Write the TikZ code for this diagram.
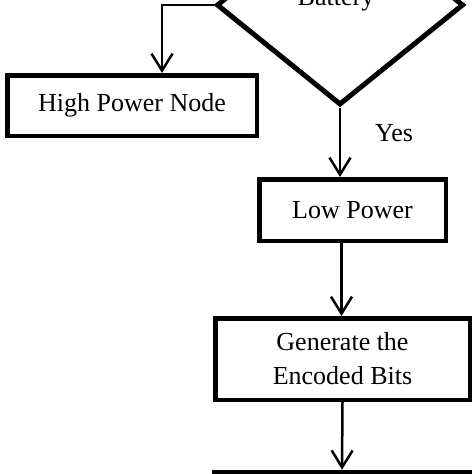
\documentclass[tikz,border=0pt]{standalone}
\usepackage{fontspec}
\setmainfont{Liberation Serif}
\usetikzlibrary{shapes.geometric,arrows.meta}
\begin{document}
\begin{tikzpicture}[x=1pt,y=-1pt,
  every node/.style={font=\fontsize{26}{34}\selectfont, inner sep=0pt},
  procbox/.style={draw, line width=4.5pt, rectangle, align=center},
  decide/.style={draw, line width=5pt, diamond, minimum width=247pt, minimum height=200pt},
  arr/.style={line width=2.5pt, -{Straight Barb[length=17pt,width=21pt,line width=2.5pt]}}
]
\useasboundingbox (0,0) rectangle (474,474);
\fill[white] (0,0) rectangle (474,474);
\node[decide] (d) at (340,5) {};
\node[anchor=base] (dtext) at (336,5) {Battery};
\node[procbox, minimum width=249.5pt, minimum height=60.5pt] (hpn) at (132,105.5) {High Power Node};
\node[procbox, minimum width=186.5pt, minimum height=61.5pt] (lp) at (352.5,210) {Low Power};
\node[procbox, minimum width=254.5pt, minimum height=81.5pt] (gen) at (342.5,359) {Generate the\\Encoded Bits};
\node[procbox, minimum width=255pt, minimum height=80pt] (next) at (342,512) {};
\node (yes) at (394,133) {Yes};
\draw[arr] (d.west) -| ([xshift=30pt]hpn.north);
\draw[arr] (d.south) -- (d.south |- lp.north);
\draw[arr] ([xshift=-11pt]lp.south) -- ([xshift=-11pt]lp.south |- gen.north);
\draw[arr] (gen.south) -- (next.north);
\end{tikzpicture}
\end{document}
